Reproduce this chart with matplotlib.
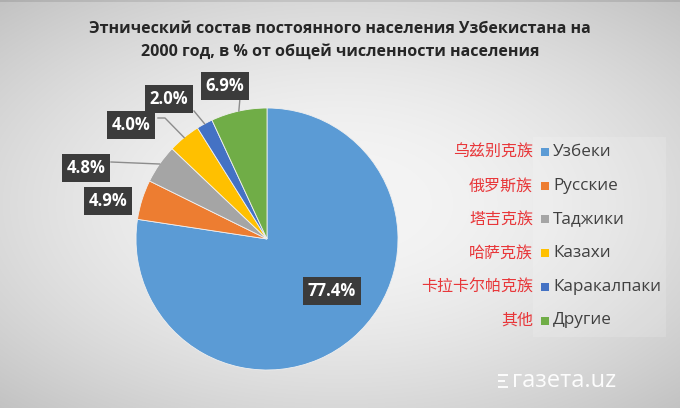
import matplotlib
import numpy as np

matplotlib.use("Agg")
import matplotlib.pyplot as plt
from matplotlib.patches import Rectangle

title = "Этнический состав постоянного населения Узбекистана на\n2000 год, в % от общей численности населения"
groups_ru = ["Узбеки", "Русские", "Таджики", "Казахи", "Каракалпаки", "Другие"]
groups_zh = ["乌兹别克族", "俄罗斯族", "塔吉克族", "哈萨克族", "卡拉卡尔帕克族", "其他"]
shares = [77.4, 4.9, 4.8, 4.0, 2.0, 6.9]
colors = ["#5B9BD5", "#ED7D31", "#A5A5A5", "#FFC000", "#4472C4", "#70AD47"]

W, H = 680, 408
CX, CY, R = 267, 239, 131

# label box centres (pixels, y from top) and leader line elbows
label_pos = [(332, 291), (108, 201), (86, 168), (131, 125), (169, 99), (225, 86)]
leader_start = [None, None, (111, 162), (158, 118), (194, 111), (240, 98)]
leader_elbow = [None, None, None, (165, 118), None, None]


def py(y):
    return H - y


fig = plt.figure(figsize=(W / 100, H / 100), dpi=100)
ax = fig.add_axes([0, 0, 1, 1])

# soft grey vignette background
xx, yy = np.meshgrid(np.linspace(-1, 1, W), np.linspace(-1, 1, H))
rr = np.sqrt((xx * 0.95) ** 2 + (yy * 1.0) ** 2)
bg = 0.955 - 0.15 * np.clip(rr - 0.2, 0, None) ** 1.5
bg[:2, :] -= 0.08
ax.imshow(np.dstack([bg, bg, bg]), extent=[0, W, 0, H], aspect="auto", zorder=0)

# legend panel
ax.add_patch(Rectangle((533, py(337)), 133, 200, fc="white", ec="none", alpha=0.15, zorder=1))

ax.pie(
    shares,
    colors=colors,
    startangle=90,
    counterclock=False,
    radius=R,
    center=(CX, py(CY)),
    wedgeprops=dict(linewidth=0.6, edgecolor="#f0f0f0"),
    frame=True,
)
ax.set_xlim(0, W)
ax.set_ylim(0, H)
ax.set_aspect("auto")
ax.axis("off")

# leader lines to slice midpoints
cum = np.cumsum([0] + shares)
for i, share in enumerate(shares):
    if leader_start[i] is None:
        continue
    mid = 90 - 360 * (cum[i] + share / 2) / 100
    ex = CX + R * np.cos(np.radians(mid))
    ey = CY - R * np.sin(np.radians(mid))
    pts = [leader_start[i]]
    if leader_elbow[i] is not None:
        pts.append(leader_elbow[i])
    pts.append((ex, ey))
    ax.plot([p[0] for p in pts], [py(p[1]) for p in pts], color="#8c8c8c", lw=1, zorder=3)

for i, share in enumerate(shares):
    x, y = label_pos[i]
    ax.text(x, py(y), f"{share:.1f}%", ha="center", va="center", color="white",
            fontsize=12, fontweight="bold", family="Open Sans", zorder=5,
            bbox=dict(boxstyle="square,pad=0.3", fc="#3b3b3b", ec="none"))

fig.text(0.5, py(40) / H, title, ha="center", va="center", fontsize=11.5,
         fontweight="bold", family="Open Sans", color="#262626", linespacing=1.55)

# legend rows
for i, name in enumerate(groups_ru):
    y = 152 + i * 33.7
    ax.add_patch(Rectangle((541, py(y) - 4), 8, 8, fc=colors[i], ec="none", zorder=4))
    ax.text(553, py(y), name, ha="left", va="center", fontsize=12.3,
            family="Open Sans", color="#404040", zorder=4)
    ax.text(533, py(y), groups_zh[i], ha="right", va="center", fontsize=11.5,
            family=["Noto Sans CJK SC", "DejaVu Sans"], color="#E8373A", zorder=4)

# watermark
for k in range(3):
    ax.add_patch(Rectangle((498, py(375 + k * 6) - 1.2), 10 if k != 1 else 7, 2.4,
                           fc="white", ec="none", alpha=0.9, zorder=4))
ax.text(512, py(381), "газета.uz", ha="left", va="center", fontsize=17,
        family="Open Sans", color="white", alpha=0.95, zorder=4)

fig.savefig("out.png", dpi=100)
